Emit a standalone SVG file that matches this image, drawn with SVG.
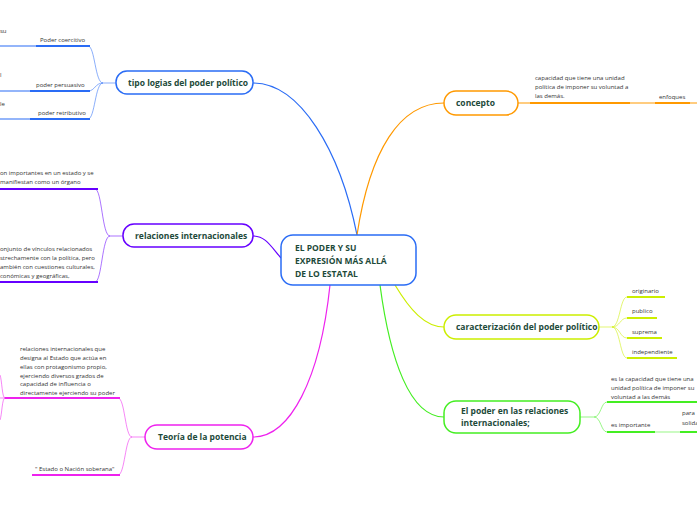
<svg xmlns="http://www.w3.org/2000/svg" width="697" height="520" viewBox="0 0 697 520">
<style>
.n{fill:#fff;stroke-width:1.5}
.t{font-family:"Open Sans",sans-serif;font-weight:bold;font-size:8.5px;fill:#1d4a3a}
.s{font-family:"Open Sans",sans-serif;font-size:6px;fill:#333}
.c{fill:none;stroke-width:1.2}
.l{fill:none;stroke-width:1;stroke-opacity:0.55}
.u{fill:none;stroke-width:2}
</style>
<rect width="697" height="520" fill="#fff"/>
<g id="connectors">
<path class="c" stroke="#2a6cf5" d="M357,235 C340,150 300,83 253,83"/>
<path class="c" stroke="#ff9900" d="M357,235 C370,150 400,103 444,103"/>
<path class="c" stroke="#6600ff" d="M281,258 C270,245 265,236 253,236"/>
<path class="c" stroke="#ee22ee" d="M330,285 C320,380 290,437 253,437"/>
<path class="c" stroke="#ccee00" d="M395,285 C410,310 425,327 444,327"/>
<path class="c" stroke="#44ee22" d="M380,285 C390,360 410,417 444,417"/>
<g stroke="#2a6cf5">
<path class="l" d="M116,83 H103 C95,83 95,46 88,46 M103,83 C95,83 95,91 88,91 M103,83 C95,83 95,119 88,119"/>
<path class="c" d="M0,46 H36 M0,91 H30 M0,119 H30"/>
<path class="u" d="M36,46 H90 M30,91 H90 M30,119 H90"/>
</g>
<g stroke="#6600ff">
<path class="l" d="M123,236 H110 C102,236 102,189 95,189 M110,236 C102,236 102,282 95,282"/>
<path class="u" d="M0,189 H98 M0,282 H98"/>
</g>
<g stroke="#ee22ee">
<path class="l" d="M145,437 H132 C125,437 125,398 118,398 M132,437 C125,437 125,475 118,475"/>
<path class="u" d="M5,398 H120 M32,475 H120"/>
<path class="l" d="M5,398 C2,398 2,380 0,375 M5,398 C2,398 2,415 0,420 M5,398 H0"/>
</g>
<g stroke="#ff9900">
<path class="c" d="M518,103 H697"/>
<path class="u" d="M530,103 H630 M655,103 H690"/>
</g>
<g stroke="#ccee00">
<path class="l" stroke-opacity="0.8" d="M599,327 H612 C620,327 620,297 627,297 M612,327 C620,327 620,318 627,318 M612,327 C620,327 620,338 627,338 M612,327 C620,327 620,358 627,358"/>
<path class="u" d="M627,297 H665 M627,318 H657 M627,338 H662 M627,358 H677"/>
</g>
<g stroke="#44ee22">
<path class="l" stroke-opacity="0.8" d="M580,417 H594 C601,417 601,402 607,402 M594,417 C601,417 601,432 607,432 M655,432 H680"/>
<path class="u" d="M607,402 H697 M607,432 H655 M680,432 H697"/>
</g>
</g>
<g id="center"><rect class="n" stroke="#2a6cf5" x="281" y="235" width="135" height="50" rx="12"/>
<text class="t" font-size="9.5"><tspan x="295" y="251">EL PODER Y SU</tspan><tspan x="295" y="264">EXPRESIÓN MÁS ALLÁ</tspan><tspan x="295" y="277">DE LO ESTATAL</tspan></text></g>
<g id="concepto"><rect class="n" stroke="#ff9900" x="444" y="91" width="74" height="24" rx="12"/><text class="t" x="456" y="106">concepto</text></g>
<g id="tipologias"><rect class="n" stroke="#2a6cf5" x="116" y="71" width="137" height="23" rx="11"/><text class="t" x="128" y="86">tipo logias del poder político</text></g>
<g id="relaciones"><rect class="n" stroke="#6600ff" x="123" y="224" width="130" height="23" rx="11"/><text class="t" x="135" y="239">relaciones internacionales</text></g>
<g id="teoria"><rect class="n" stroke="#ee22ee" x="145" y="425" width="108" height="24" rx="12"/><text class="t" x="158" y="440">Teoría de la potencia</text></g>
<g id="caracterizacion"><rect class="n" stroke="#ccee00" x="444" y="315" width="155" height="24" rx="12"/><text class="t" x="456" y="330">caracterización del poder político</text></g>
<g id="poderRI"><rect class="n" stroke="#44ee22" x="444" y="401" width="136" height="32" rx="12"/><text class="t"><tspan x="461" y="414">El poder en las relaciones</tspan><tspan x="461" y="426">internacionales;</tspan></text></g>
<g id="leaves">
<text class="s" x="0" y="33">su</text>
<text class="s" x="40" y="42">Poder coercitivo</text>
<text class="s" x="0" y="77">l</text>
<text class="s" x="36" y="87">poder persuasivo</text>
<text class="s" x="0" y="106">le</text>
<text class="s" x="38" y="115">poder retributivo</text>
<text class="s"><tspan x="0" y="175">on importantes en un estado y se</tspan><tspan x="0" y="184">manifiestan como un órgano</tspan></text>
<text class="s"><tspan x="0" y="251">onjunto de vínculos relacionados</tspan><tspan x="0" y="260">strechamente con la política, pero</tspan><tspan x="0" y="269">ambién con cuestiones culturales,</tspan><tspan x="0" y="278">conómicas y geográficas,</tspan></text>
<text class="s"><tspan x="20" y="351">relaciones internacionales que</tspan><tspan x="20" y="360">designa al Estado que actúa en</tspan><tspan x="20" y="369">ellas con protagonismo propio,</tspan><tspan x="20" y="378">ejerciendo diversos grados de</tspan><tspan x="20" y="386">capacidad de influencia o</tspan><tspan x="20" y="395">directamente ejerciendo su poder</tspan></text>
<text class="s" x="35" y="471">" Estado o Nación soberana"</text>
<text class="s"><tspan x="535" y="80">capacidad que tiene una unidad</tspan><tspan x="535" y="89">política de imponer su voluntad a</tspan><tspan x="535" y="98">las demás.</tspan></text>
<text class="s" x="659" y="99">enfoques</text>
<text class="s" x="632" y="293">originario</text>
<text class="s" x="632" y="313">publico</text>
<text class="s" x="632" y="334">suprema</text>
<text class="s" x="632" y="354">independiente</text>
<text class="s"><tspan x="611" y="381">es la capacidad que tiene una</tspan><tspan x="611" y="390">unidad política de imponer su</tspan><tspan x="611" y="399">voluntad a las demás</tspan></text>
<text class="s" x="611" y="427">es importante</text>
<text class="s"><tspan x="682" y="415">para</tspan><tspan x="682" y="425">solida</tspan></text>
</g>
</svg>
